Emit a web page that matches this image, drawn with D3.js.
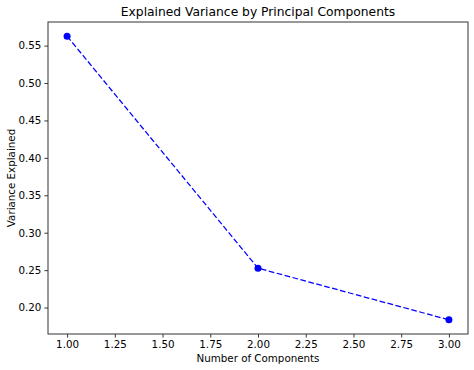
<!DOCTYPE html>
<html>
<head>
<meta charset="utf-8">
<script src="https://cdn.jsdelivr.net/npm/d3@7"></script>
<style>
  body { margin: 0; background: #fff; }
  text { font-family: "DejaVu Sans", sans-serif; fill: #000; }
</style>
</head>
<body>
<div id="chart"></div>
<script>
// data
var components = [1, 2, 3];
var varianceRatio = [0.5626, 0.2526, 0.1836];
var xTicks = [1.00, 1.25, 1.50, 1.75, 2.00, 2.25, 2.50, 2.75, 3.00];
var yTicks = [0.20, 0.25, 0.30, 0.35, 0.40, 0.45, 0.50, 0.55];

var svgWidth = 474;
var svgHeight = 370;
var margin = { top: 22, right: 6, bottom: 36, left: 48 };
var width = svgWidth - margin.left - margin.right;
var height = svgHeight - margin.top - margin.bottom;

var svg = d3.select("#chart")
  .append("svg")
  .attr("width", svgWidth)
  .attr("height", svgHeight);

var chartGroup = svg.append("g")
  .attr("transform", `translate(${margin.left}, ${margin.top})`);

var data = components.map((c, i) => ({ x: c, y: varianceRatio[i] }));

// matplotlib style 5% padding
var xExt = d3.extent(components), xPad = (xExt[1] - xExt[0]) * 0.05;
var yExt = d3.extent(varianceRatio), yPad = (yExt[1] - yExt[0]) * 0.05;

var xScale = d3.scaleLinear()
  .domain([xExt[0] - xPad, xExt[1] + xPad])
  .range([0, width]);

var yScale = d3.scaleLinear()
  .domain([yExt[0] - yPad, yExt[1] + yPad])
  .range([height, 0]);

var xAxis = d3.axisBottom(xScale).tickValues(xTicks).tickFormat(d3.format(".2f")).tickSizeOuter(0).tickSize(3.6).tickPadding(3.5);
var yAxis = d3.axisLeft(yScale).tickValues(yTicks).tickFormat(d3.format(".2f")).tickSizeOuter(0).tickSize(3.6).tickPadding(3);

var gx = chartGroup.append("g")
  .attr("transform", `translate(0, ${height})`)
  .call(xAxis);
var gy = chartGroup.append("g").call(yAxis);

[gx, gy].forEach(function(g) {
  g.select(".domain").remove();
  g.selectAll(".tick line").attr("stroke", "#222").attr("stroke-width", 0.9);
  g.selectAll(".tick text").attr("font-size", "10.3px").attr("fill", "#111")
    .style("font-family", "'DejaVu Sans', sans-serif");
});

// axes frame
chartGroup.append("rect")
  .attr("width", width)
  .attr("height", height)
  .attr("fill", "none")
  .attr("stroke", "#333")
  .attr("stroke-width", 1);

var line = d3.line()
  .x(d => xScale(d.x))
  .y(d => yScale(d.y));

chartGroup.append("path")
  .datum(data)
  .attr("d", line)
  .attr("fill", "none")
  .attr("stroke", "#0000ff")
  .attr("stroke-width", 1.25)
  .attr("stroke-dasharray", "5.7,2.5");

chartGroup.selectAll("circle")
  .data(data)
  .enter()
  .append("circle")
  .attr("cx", d => xScale(d.x))
  .attr("cy", d => yScale(d.y))
  .attr("r", 3.5)
  .attr("fill", "#0000ff");

// title and labels
svg.append("text")
  .attr("x", margin.left + width / 2)
  .attr("y", 16)
  .attr("text-anchor", "middle")
  .attr("font-size", "12.3px")
  .text("Explained Variance by Principal Components");

svg.append("text")
  .attr("x", margin.left + width / 2)
  .attr("y", 362)
  .attr("text-anchor", "middle")
  .attr("font-size", "10.3px")
  .text("Number of Components");

svg.append("text")
  .attr("transform", `translate(15, ${margin.top + height / 2}) rotate(-90)`)
  .attr("text-anchor", "middle")
  .attr("font-size", "10.3px")
  .text("Variance Explained");
</script>
</body>
</html>
